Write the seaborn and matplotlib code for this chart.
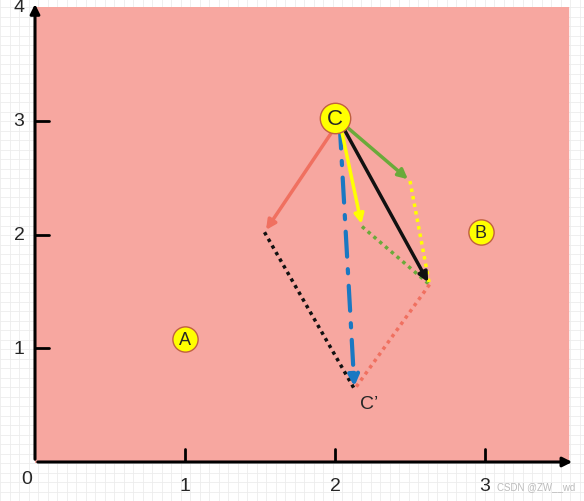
import numpy as np
import pandas as pd
import matplotlib.pyplot as plt
import seaborn as sns

# ── Data (points in axis units) ───────────────────────────────────────────────
C = (2.03, 3.00)
RED_END = (1.53, 2.02)
YELLOW_END = (2.18, 2.07)
GREEN_END = (2.50, 2.47)
B_TIP = (2.63, 1.56)
C_PRIME = (2.13, 0.64)

LABEL_A = (1.0, 1.08)
LABEL_B = (2.97, 2.02)
X_TICKS = [1, 2, 3]
Y_TICKS = [1, 2, 3]

# solid arrows from C
ARROWS = [
    (C, RED_END, "#f07060"),
    (C, YELLOW_END, "#ffff00"),
    (C, GREEN_END, "#6aaa3a"),
    (C, B_TIP, "#111111"),
]
# dotted edges of the parallelograms
DOTTED = [
    (RED_END, C_PRIME, "#111111"),
    (YELLOW_END, B_TIP, "#6aaa3a"),
    (GREEN_END, B_TIP, "#ffff00"),
    (B_TIP, C_PRIME, "#f07060"),
]

sns.set_style("white")
plt.rcParams["font.family"] = ["Liberation Sans", "DejaVu Sans"]

fig = plt.figure(figsize=(5.84, 5.02), dpi=100)

# faint graph paper background
bg = fig.add_axes([0, 0, 1, 1])
bg.set_xlim(0, 584)
bg.set_ylim(0, 502)
for v in np.arange(0, 584, 9.5):
    bg.axvline(v, color="#ececec", lw=0.6)
for v in np.arange(0, 502, 9.5):
    bg.axhline(v, color="#ececec", lw=0.6)
bg.axis("off")

ax = fig.add_axes([35 / 584, 39 / 502, 540 / 584, 455 / 502])
ax.set_xlim(0, 3.6)
ax.set_ylim(0, 4.0)
ax.patch.set_alpha(0)
ax.fill_between([0, 3.55], 0, 4.0, color="#f7a7a0", zorder=0)

for s in ax.spines.values():
    s.set_visible(False)
ax.set_xticks([])
ax.set_yticks([])

# axes lines with arrowheads
ax.annotate("", xy=(3.6, 0), xytext=(0, 0), annotation_clip=False,
            arrowprops=dict(arrowstyle="-|>", color="black", lw=2.2, mutation_scale=14))
ax.annotate("", xy=(0, 4.05), xytext=(0, 0), annotation_clip=False,
            arrowprops=dict(arrowstyle="-|>", color="black", lw=2.2, mutation_scale=14))
for t in X_TICKS:
    ax.plot([t, t], [0, 0.11], color="black", lw=2)
    ax.text(t, -0.13, str(t), ha="center", va="top", fontsize=14)
for t in Y_TICKS:
    ax.plot([0, 0.09], [t, t], color="black", lw=2)
    ax.text(-0.07, t, str(t), ha="right", va="center", fontsize=14)
ax.text(-0.02, -0.07, "0", ha="right", va="top", fontsize=14, clip_on=False)
ax.text(-0.07, 4.0, "4", ha="right", va="center", fontsize=14, clip_on=False)

# dotted parallelogram edges
for p0, p1, col in DOTTED:
    seg = pd.DataFrame({"x": [p0[0], p1[0]], "y": [p0[1], p1[1]]})
    sns.lineplot(data=seg, x="x", y="y", ax=ax, color=col, lw=2.5,
                 linestyle=(0, (1, 1.2)), sort=False, estimator=None)

# resultant C -> C'
ax.annotate("", xy=C_PRIME, xytext=C,
            arrowprops=dict(arrowstyle="-|>", color="#1a78c2", lw=3,
                            linestyle=(0, (6, 3, 1, 3)), mutation_scale=16))

for p0, p1, col in ARROWS:
    ax.annotate("", xy=p1, xytext=p0,
                arrowprops=dict(arrowstyle="-|>", color=col, lw=2.5, mutation_scale=14))

ax.set_xlabel("")
ax.set_ylabel("")

# labels
ax.scatter([C[0] - 0.03], [C[1] + 0.02], s=480, color="#ffff00", edgecolor="#c06040", zorder=5)
ax.text(C[0] - 0.03, C[1] + 0.02, "C", ha="center", va="center", fontsize=16, zorder=6)
for (x, y), lab in [(LABEL_A, "A"), (LABEL_B, "B")]:
    ax.scatter([x], [y], s=330, color="#ffff00", edgecolor="#c06040", zorder=5)
    ax.text(x, y, lab, ha="center", va="center", fontsize=13, zorder=6)
ax.text(C_PRIME[0] + 0.1, C_PRIME[1] - 0.13, "C’", ha="center", va="center", fontsize=14)

fig.text(0.985, 0.02, "CSDN @ZW__wd", ha="right", va="bottom", fontsize=7, color="#bbbbbb")

fig.savefig("out.png", dpi=100)
